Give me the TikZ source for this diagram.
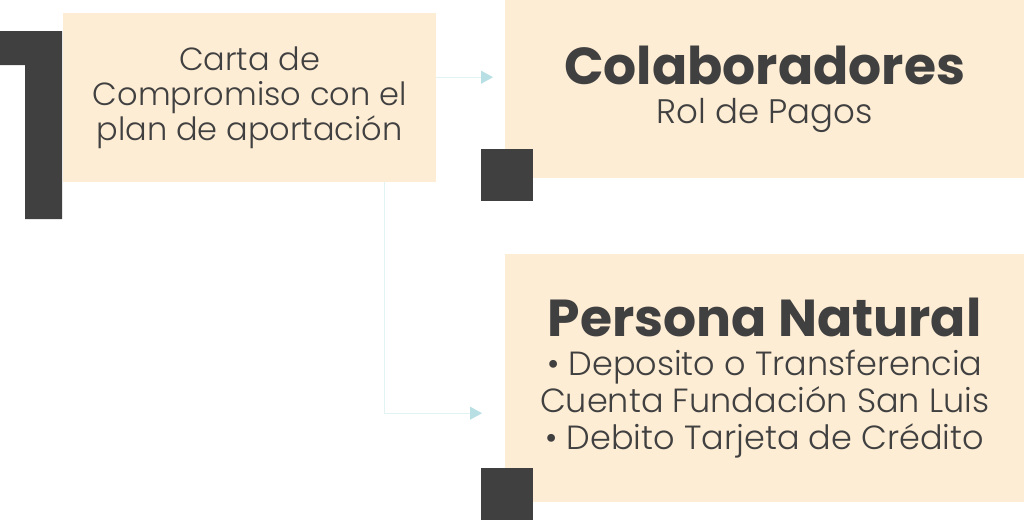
\documentclass[tikz,border=0pt]{standalone}
\usepackage{fontspec}
\setmainfont{Poppins}[UprightFont={* Light}, BoldFont={* Bold}]
\usetikzlibrary{positioning}
\usetikzlibrary{arrows.meta}

\definecolor{beige}{HTML}{FEEDD5}
\definecolor{inkgray}{HTML}{404040}
\definecolor{linecyan}{HTML}{E2F3F4}
\definecolor{tipcyan}{HTML}{B8E0E4}

\begin{document}
\begin{tikzpicture}[x=1pt, y=-1pt,
	box/.style={fill=beige, inner sep=0pt, anchor=north west, text=inkgray, align=center},
	block/.style={fill=inkgray},
	link/.style={draw=linecyan, line width=1pt, -{Triangle[length=12pt, width=13pt, color=tipcyan]}}]

	\useasboundingbox (0,0) rectangle (1024,520);

	% the big one
	\fill[block] (0,31) -- (62,31) -- (62,219) -- (25,219) -- (25,65) -- (0,65) -- cycle;

	\node (carta) [box, minimum width=373pt, minimum height=169pt, font=\fontsize{32}{35}\selectfont] at (63,13) {Carta de\\Compromiso con el\\plan de aportación};
	\node (colab) [box, minimum width=519pt, minimum height=178pt, font=\fontsize{34}{39}\selectfont] at (505,0) {{\bfseries\fontsize{52}{39}\selectfont Colaboradores}\\Rol de Pagos};
	\node (persona) [box, minimum width=519pt, minimum height=248pt, font=\fontsize{33.5}{37}\selectfont] at (505,254) {{\bfseries\fontsize{52}{38}\selectfont Persona Natural}\\[1.5pt]\textbullet{} Deposito o Transferencia\\Cuenta Fundación San Luis\\\textbullet{} Debito Tarjeta de Crédito};

	\fill[block] (481,149) rectangle (533,201);
	\fill[block] (481,468) rectangle (533,520);

	\coordinate (c1) at ([yshift=20.5pt]carta.east);
	\coordinate (c2) at ([xshift=134.5pt]carta.south);
	\coordinate (p1) at ([yshift=-35pt]persona.west);

	\path[link, shorten >=12pt] (c1) -- (colab.west |- c1);
	\path[link, shorten >=23pt] (c2) |- (p1);

\end{tikzpicture}
\end{document}
